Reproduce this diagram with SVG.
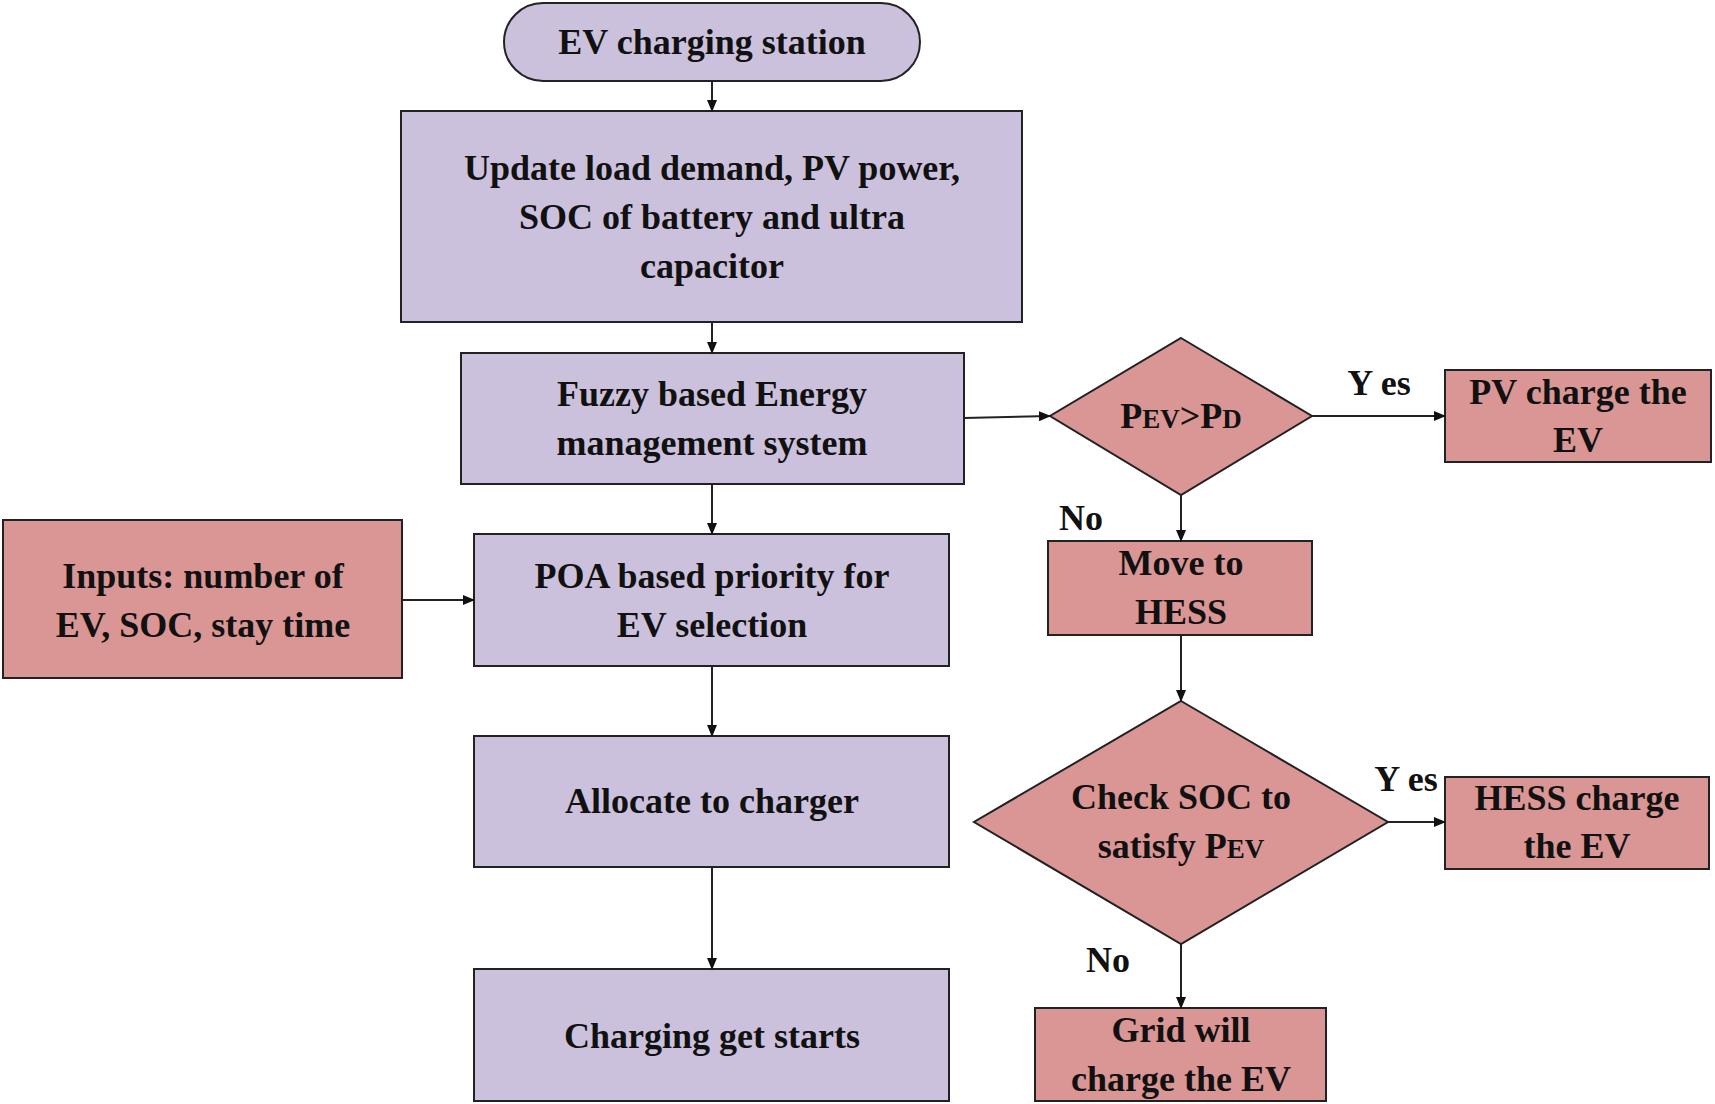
<svg xmlns="http://www.w3.org/2000/svg" width="1715" height="1104" viewBox="0 0 1715 1104">
<style>
.p{fill:#ccc1dc;stroke:#222;stroke-width:2}
.r{fill:#d99694;stroke:#222;stroke-width:2}
text{font-family:"Liberation Serif",serif;font-weight:bold;font-size:36px;fill:#111;text-anchor:middle}
.c line{stroke:#222;stroke-width:2;marker-end:url(#a)}
</style>
<defs><marker id="a" markerWidth="12" markerHeight="10" refX="11" refY="5" orient="auto" markerUnits="userSpaceOnUse"><path d="M0,0L12,5L0,10z" fill="#111"/></marker></defs>
<rect width="1715" height="1104" fill="#fff"/>
<g id="start"><rect class="p" x="504" y="3" width="416" height="78" rx="39"/><text x="712" y="54">EV charging station</text></g>
<g id="update"><rect class="p" x="401" y="111" width="621" height="211"/><text x="712" y="180">Update load demand, PV power,</text><text x="712" y="229">SOC of battery and ultra</text><text x="712" y="278">capacitor</text></g>
<g id="fuzzy"><rect class="p" x="461" y="353" width="503" height="131"/><text x="712" y="406">Fuzzy based Energy</text><text x="712" y="455">management system</text></g>
<g id="poa"><rect class="p" x="474" y="534" width="475" height="132"/><text x="712" y="588">POA based priority for</text><text x="712" y="637">EV selection</text></g>
<g id="allocate"><rect class="p" x="474" y="736" width="475" height="131"/><text x="712" y="813">Allocate to charger</text></g>
<g id="charging"><rect class="p" x="474" y="969" width="475" height="132"/><text x="712" y="1048">Charging get starts</text></g>
<g id="inputs"><rect class="r" x="3" y="520" width="399" height="158"/><text x="203" y="588">Inputs: number of</text><text x="203" y="637">EV, SOC, stay time</text></g>
<g id="d1"><polygon class="r" points="1181,338 1312,416 1181,495 1050,416"/><text x="1181" y="428">P<tspan font-size="27">EV</tspan>&gt;P<tspan font-size="27">D</tspan></text></g>
<g id="pv"><rect class="r" x="1445" y="370" width="266" height="92"/><text x="1578" y="404">PV charge the</text><text x="1578" y="452">EV</text></g>
<g id="move"><rect class="r" x="1048" y="541" width="264" height="94"/><text x="1181" y="575">Move to</text><text x="1181" y="624">HESS</text></g>
<g id="d2"><polygon class="r" points="1181,701 1388,822 1181,944 974,822"/><text x="1181" y="809">Check  SOC to</text><text x="1181" y="858">satisfy P<tspan font-size="27">EV</tspan></text></g>
<g id="hess"><rect class="r" x="1445" y="777" width="264" height="92"/><text x="1577" y="810">HESS charge</text><text x="1577" y="858">the EV</text></g>
<g id="grid"><rect class="r" x="1035" y="1008" width="291" height="93"/><text x="1181" y="1042">Grid will</text><text x="1181" y="1091">charge the EV</text></g>
<g class="c" id="connectors">
<line x1="712" y1="81" x2="712" y2="111"/>
<line x1="712" y1="322" x2="712" y2="353"/>
<line x1="712" y1="484" x2="712" y2="534"/>
<line x1="712" y1="666" x2="712" y2="736"/>
<line x1="712" y1="867" x2="712" y2="969"/>
<line x1="402" y1="600" x2="474" y2="600"/>
<line x1="964" y1="418" x2="1050" y2="416"/>
<line x1="1312" y1="416" x2="1445" y2="416"/>
<line x1="1181" y1="495" x2="1181" y2="541"/>
<line x1="1181" y1="635" x2="1181" y2="701"/>
<line x1="1388" y1="822" x2="1445" y2="822"/>
<line x1="1181" y1="944" x2="1181" y2="1008"/>
</g>
<text x="1379" y="395">Y es</text>
<text x="1081" y="530">No</text>
<text x="1406" y="791">Y es</text>
<text x="1108" y="972">No</text>
</svg>
